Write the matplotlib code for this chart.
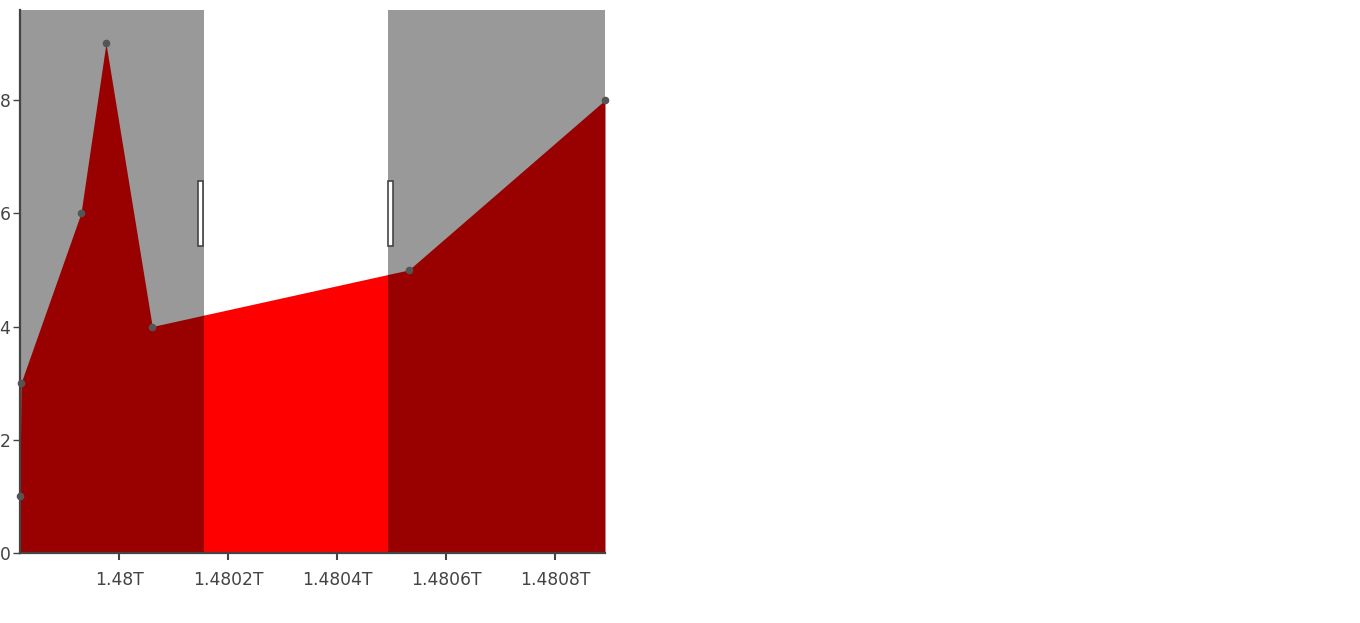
import matplotlib
matplotlib.use("Agg")
import matplotlib.pyplot as plt
from matplotlib.patches import Rectangle
from matplotlib.ticker import MultipleLocator, FuncFormatter

# data (timestamps in ms)
x_ms = [1.4798178e12, 1.4798196e12, 1.4799297e12, 1.4799756e12,
        1.4800606e12, 1.4805316e12, 1.4808918e12]
values = [1, 3, 6, 9, 4, 5, 8]
brush_range = [1.4801554e12, 1.4804931e12]
y_ticks = [0, 2, 4, 6, 8]

W, H = 1360, 623
fig = plt.figure(figsize=(W / 100, H / 100), dpi=100)
L, R, T, B = 20, 605, 10, 553
ax = fig.add_axes([L / W, (H - B) / H, (R - L) / W, (B - T) / H])

xmin, xmax = x_ms[0], x_ms[-1]
ymax = 9.59
ax.set_xlim(xmin, xmax)
ax.set_ylim(0, ymax)
px = (xmax - xmin) / (R - L)
py = ymax / (B - T)

# grey overlay outside the brush
ax.axvspan(xmin, brush_range[0], color="#999999", lw=0, zorder=0)
ax.axvspan(brush_range[1], xmax, color="#999999", lw=0, zorder=0)

# area: dark red outside brush, bright red inside
for lo, hi, col in [(xmin, brush_range[0], "#990000"),
                    (brush_range[0], brush_range[1], "#ff0000"),
                    (brush_range[1], xmax, "#990000")]:
    poly = ax.fill_between(x_ms, 0, values, color=col, lw=0, zorder=1)
    clip = Rectangle((lo, 0), hi - lo, ymax, transform=ax.transData)
    poly.set_clip_path(clip)

ax.plot(x_ms, values, linestyle="none", marker="o", ms=5.5,
        color="#555555", mec="none", zorder=3, clip_on=False)

# brush handles
hy0, hy1 = (B - 246), (B - 181)
for hx in [brush_range[0] - 5.5 * px, brush_range[1]]:
    ax.add_patch(Rectangle((hx, hy0 * py), 5 * px, (hy1 - hy0) * py,
                           facecolor="white", edgecolor="#444444", lw=1.2,
                           zorder=4))

for s in ["top", "right"]:
    ax.spines[s].set_visible(False)
for s in ["left", "bottom"]:
    ax.spines[s].set_color("#444444")
    ax.spines[s].set_linewidth(1.6)

ax.set_yticks(y_ticks)
ax.xaxis.set_major_locator(MultipleLocator(2e8))
ax.xaxis.set_major_formatter(FuncFormatter(lambda v, p: f"{v / 1e12:g}T"))
ax.tick_params(axis="x", length=5, width=1.5, color="#444444", pad=8,
               labelsize=12.3, labelcolor="#444444")
ax.tick_params(axis="y", length=5, width=1.0, color="#444444", pad=2,
               labelsize=12.3, labelcolor="#444444")

fig.savefig("out.png", dpi=100)
